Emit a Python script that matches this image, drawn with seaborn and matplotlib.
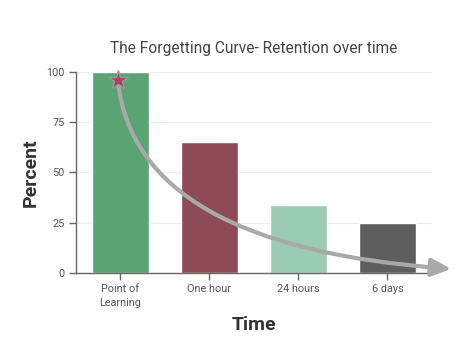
import pandas as pd
import matplotlib.pyplot as plt
import seaborn as sns

# Bar data
times = ["Point of\nLearning", "One hour", "24 hours", "6 days"]
percent = [100, 65, 34, 25]
bar_colors = ["#5aa473", "#8c4b56", "#9ccbb3", "#5e5e5e"]

# Decorative forgetting curve: start (star) and end (arrow tip), in data units
curve_start = (-0.03, 96)
curve_end = (3.72, 2)

df = pd.DataFrame({"Time": times, "Percent": percent})

sns.set_theme(style="white")
plt.rcParams["font.family"] = ["Roboto", "DejaVu Sans"]

fig = plt.figure(figsize=(4.74, 3.6), dpi=100)
ax = fig.add_axes([0.160, 0.242, 0.751, 0.558])

sns.barplot(data=df, x="Time", y="Percent", hue="Time", palette=bar_colors,
            width=0.64, saturation=1, legend=False, ax=ax, zorder=2)

ax.set_ylim(0, 100)
ax.set_xlim(-0.5, 3.5)
ax.set_yticks([0, 25, 50, 75, 100])
ax.yaxis.grid(True, color="#ececec", linewidth=0.8, zorder=0)
ax.set_axisbelow(True)

for side in ["top", "right"]:
    ax.spines[side].set_visible(False)
for side in ["left", "bottom"]:
    ax.spines[side].set_color("#666666")
    ax.spines[side].set_linewidth(1.0)

ax.tick_params(axis="both", which="both", direction="out", length=5, width=1,
               color="#666666", labelsize=7.8, labelcolor="#555555", pad=3)
ax.tick_params(axis="x", bottom=True)
ax.tick_params(axis="y", left=True)
for lbl in ax.get_xticklabels():
    lbl.set_linespacing(1.45)

ax.set_title("The Forgetting Curve- Retention over time", fontsize=11.2,
             color="#444444", pad=14)
ax.set_xlabel("Time", fontsize=14, fontweight="bold", color="#333333", labelpad=6)
ax.set_ylabel("Percent", fontsize=14, fontweight="bold", color="#333333", labelpad=5)

# Curved arrow
ax.annotate("", xy=curve_end, xytext=curve_start, annotation_clip=False,
            arrowprops=dict(arrowstyle="-|>,head_length=1.0,head_width=0.45",
                            connectionstyle="angle3,angleA=-84,angleB=-4",
                            color="#a9a9a9", lw=3, shrinkA=0, shrinkB=0),
            zorder=4)
ax.plot([curve_start[0]], [curve_start[1]], marker="*", markersize=15,
        color="#a34b5c", markeredgecolor="#9a9a9a", markeredgewidth=1,
        clip_on=False, zorder=5)

fig.savefig("out.png", dpi=100)
